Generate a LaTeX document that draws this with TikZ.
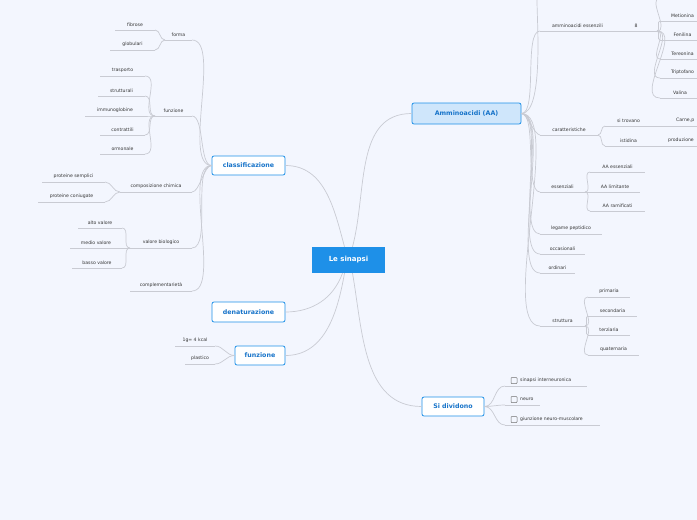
\documentclass[tikz,border=0pt]{standalone}
\usepackage{fontspec}
\setmainfont{DejaVu Sans}
\definecolor{bg}{HTML}{F3F6FE}
\definecolor{ln}{HTML}{C9CBD3}
\definecolor{tx}{HTML}{333333}
\definecolor{bl}{HTML}{1E90E8}
\definecolor{bl2}{HTML}{1673C9}
\definecolor{lb}{HTML}{CFE6FB}
\tikzset{
 lt/.style={font=\fontsize{4.6}{5}\selectfont, text=tx, inner sep=0pt},
 ul/.style={draw=ln, line width=0.7pt},
 cn/.style={draw=ln, line width=0.7pt},
 mn/.style={draw=bl, line width=0.8pt, rounded corners=2pt, fill=white, text=bl2, font=\fontsize{6.3}{7}\selectfont\bfseries, inner sep=0pt},
 cb/.style={draw=tx!70, rounded corners=0.8pt, line width=0.5pt, minimum size=6pt, inner sep=0pt}
}
\newcommand\leaf[5]{\node[lt] (#1) at ({(#2+#3)/2},#4-5.5) {#5};
 \coordinate (#1-l) at (#2,#4); \coordinate (#1-r) at (#3,#4); \draw[ul] (#1-l)--(#1-r);}
\begin{document}
\begin{tikzpicture}[x=1pt,y=-1pt]
\fill[bg] (0,0) rectangle (697,520);
\useasboundingbox (0,0) rectangle (697,520);
% main nodes
\node[fill=bl, text=white, font=\fontsize{7}{8}\selectfont\bfseries, minimum width=73pt, minimum height=26pt, inner sep=0pt] (cen) at (348.5,260) {Le sinapsi};
\node[mn, minimum width=73pt, minimum height=19pt] (cls) at (248.5,165.5) {classificazione};
\node[mn, minimum width=109pt, minimum height=21pt, fill=lb] (aa) at (466.5,113.5) {Amminoacidi (AA)};
\node[mn, minimum width=73pt, minimum height=20pt] (den) at (248.5,312) {denaturazione};
\node[mn, minimum width=50pt, minimum height=19pt] (fun) at (260,355.5) {funzione};
\node[mn, minimum width=62pt, minimum height=19pt] (sd) at (453,406.5) {Si dividono};
\draw[cn] (cen.north) ++(-4,0) to[out=105,in=0] (cls.east);
\draw[cn] (cen.north) ++(4,0) to[out=75,in=180] (aa.west);
\draw[cn] (cen.south) ++(-6,0) to[out=-110,in=0] (den.east);
\draw[cn] (cen.south) ++(-4,0) to[out=-100,in=0] (fun.east);
\draw[cn] (cen.south) ++(4,0) to[out=-80,in=180] (sd.west);
% classificazione subtree
\leaf{forma}{165}{192}{40}{forma}
\leaf{funz}{155}{192}{116}{funzione}
\leaf{comp}{120}{192}{192}{composizione chimica}
\leaf{val}{130}{192}{248}{valore biologico}
\leaf{compl}{130}{192}{291}{complementarietà}
\foreach \c in {forma,funz,comp,val,compl}{\draw[cn] (cls.west) to[out=180,in=0,looseness=0.6] (\c-r);}
\leaf{fib}{115}{155}{30}{fibrose}
\leaf{glo}{110}{155}{50}{globulari}
\foreach \c in {fib,glo}{\draw[cn] (forma-l) to[out=180,in=0] (\c-r);}
\leaf{tra}{100}{145}{76}{trasporto}
\leaf{str}{98}{145}{96}{strutturali}
\leaf{imm}{85}{145}{116}{immunoglobine}
\leaf{con}{100}{145}{135}{contrattili}
\leaf{orm}{100}{145}{154}{ormonale}
\foreach \c in {tra,str,imm,con,orm}{\draw[cn] (funz-l) to[out=180,in=0] (\c-r);}
\leaf{ps}{42}{105}{182}{proteine semplici}
\leaf{pc}{38}{105}{202}{proteine coniugate}
\foreach \c in {ps,pc}{\draw[cn] (comp-l) to[out=180,in=0] (\c-r);}
\leaf{av}{78}{122}{228}{alto valore}
\leaf{mv}{70}{122}{248}{medio valore}
\leaf{bv}{72}{122}{268}{basso valore}
\foreach \c in {av,mv,bv}{\draw[cn] (val-l) to[out=180,in=0] (\c-r);}
% funzione subtree
\leaf{kc}{175}{215}{346}{1g= 4 kcal}
\leaf{pl}{185}{215}{364}{plastico}
\foreach \c in {kc,pl}{\draw[cn] (fun.west) to[out=180,in=0] (\c-r);}
% amminoacidi subtree
\leaf{ae}{540}{615}{31}{amminoacidi essenzili}
\leaf{car}{540}{598}{135}{caratteristiche}
\leaf{ess}{540}{585}{192}{essenziali}
\leaf{lp}{540}{602}{234}{legame peptidico}
\leaf{occ}{540}{585}{254}{occasionali}
\leaf{ord}{540}{575}{273}{ordinari}
\leaf{st}{540}{585}{326}{struttura}
\foreach \c in {ae,car,ess,lp,occ,ord,st}{\draw[cn] (aa.east) to[out=0,in=180,looseness=0.5] (\c-l);}
\draw[cn] (aa.east) to[out=0,in=-90,looseness=0.5] (537,0);
\leaf{otto}{615}{657}{31}{8}
\coordinate (top8) at (697,-2);
\draw[cn] (otto-r) to[out=0,in=180] (660,-2) -- (top8);
\leaf{met}{660}{705}{21}{Metionina}
\leaf{fen}{660}{705}{40}{Fenilina}
\leaf{ter}{660}{705}{59}{Tereonina}
\leaf{tri}{660}{705}{78}{Triptofano}
\leaf{vali}{660}{700}{98}{Valina}
\foreach \c in {met,fen,ter,tri,vali}{\draw[cn] (otto-r) to[out=0,in=180] (\c-l);}
\leaf{sit}{605}{652}{126}{si trovano}
\leaf{ist}{605}{652}{146}{istidina}
\foreach \c in {sit,ist}{\draw[cn] (car-r) to[out=0,in=180] (\c-l);}
\node[lt, anchor=west] (carne) at (676,120.5) {Carne,p};
\node[lt, anchor=west] (prod) at (668,140.5) {produzione};
\draw[ul] (652,126)--(700,126); \draw[ul] (652,146)--(700,146);
\leaf{aes}{590}{645}{172}{AA essenziali}
\leaf{ali}{590}{640}{192}{AA limitante}
\leaf{ara}{590}{645}{211}{AA ramificati}
\foreach \c in {aes,ali,ara}{\draw[cn] (ess-r) to[out=0,in=180] (\c-l);}
\leaf{pri}{588}{630}{297}{primaria}
\leaf{sec}{588}{637}{316}{secondaria}
\leaf{ter2}{588}{630}{335}{terziaria}
\leaf{qua}{588}{639}{355}{quaternaria}
\foreach \c in {pri,sec,ter2,qua}{\draw[cn] (st-r) to[out=0,in=180] (\c-l);}
% si dividono subtree
\foreach \n/\y/\xr/\t in {si/386/587/sinapsi interneuronica, ne/405/540/neuro, gi/425/600/giunzione neuro-muscolare}{
 \coordinate (\n-l) at (505,\y); \coordinate (\n-r) at (\xr,\y);
 \draw[ul] (\n-l)--(\n-r);
 \node[cb] (\n-b) at (514,\y-5.5) {};
 \node[lt, anchor=west] (\n) at (520,\y-5.5) {\t};
 \draw[cn] (sd.east) to[out=0,in=180] (\n-l);}
\end{tikzpicture}
\end{document}
